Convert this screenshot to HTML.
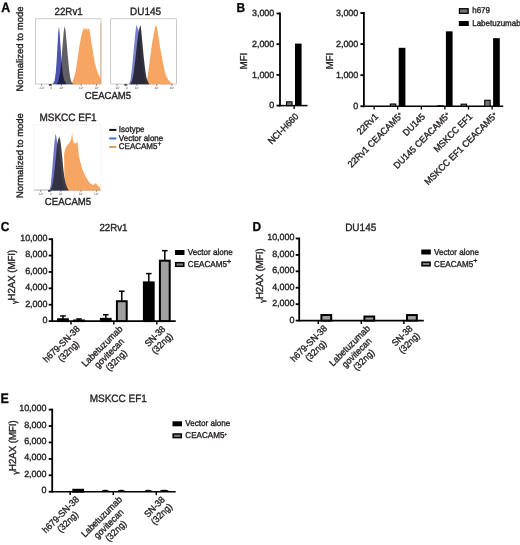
<!DOCTYPE html>
<html><head><meta charset="utf-8"><title>Figure</title>
<style>
html,body{margin:0;padding:0;background:#fff;}
body{width:520px;height:545px;overflow:hidden;}
svg{display:block;font-family:"Liberation Sans", sans-serif;text-rendering:geometricPrecision;filter:blur(0.35px);}
text{stroke:#231f20;stroke-width:0.36px;}
</style></head><body>
<svg width="520" height="545" viewBox="0 0 520 545">
<rect width="520" height="545" fill="#fff"/>
<text transform="translate(1.2,11.6) scale(0.9000,1)" font-size="13.70" text-anchor="start" font-weight="bold" fill="#000" >A</text>
<text transform="translate(236.4,11.5) scale(0.9150,1)" font-size="13.00" text-anchor="start" font-weight="bold" fill="#000" >B</text>
<text transform="translate(0.8,231.2) scale(0.9150,1)" font-size="13.00" text-anchor="start" font-weight="bold" fill="#000" >C</text>
<text transform="translate(252.5,231.2) scale(0.9150,1)" font-size="13.00" text-anchor="start" font-weight="bold" fill="#000" >D</text>
<text transform="translate(0.4,402.8) scale(0.9000,1)" font-size="13.80" text-anchor="start" font-weight="bold" fill="#000" >E</text>
<rect x="35.5" y="18.8" width="65.5" height="65.2" fill="none" stroke="#b5b5b5" stroke-width="0.7"/>
<text transform="translate(22.8,49) rotate(-90) scale(1.0000,1)" font-size="9.50" text-anchor="middle" fill="#231f20">Normalized to mode</text>
<text transform="translate(68.6,15.1) scale(0.9434,1)" font-size="10.39" text-anchor="middle" font-weight="normal" fill="#231f20" >22Rv1</text>
<text transform="translate(108,98.7) scale(0.9434,1)" font-size="10.18" text-anchor="middle" font-weight="normal" fill="#231f20" >CEACAM5</text>
<path d="M52.50,84.30 L54.50,81.00 L55.80,72.00 L56.80,58.00 L57.60,44.00 L58.30,32.00 L58.90,26.80 L59.60,32.00 L60.50,46.00 L61.60,62.00 L62.80,74.00 L64.30,80.50 L66.50,84.30 Z" fill="#4c53b2" fill-opacity="1"/>
<path d="M70.80,84.30 L72.50,82.60 L74.10,77.00 L75.80,71.20 L77.40,59.60 L79.10,48.00 L80.70,39.00 L82.40,31.50 L83.40,29.00 L84.10,28.20 L85.20,29.50 L86.20,27.90 L87.40,29.90 L88.50,28.20 L89.20,29.20 L89.80,31.50 L91.00,39.50 L92.30,48.00 L93.50,55.50 L94.80,62.90 L96.00,67.50 L97.30,71.20 L98.50,74.50 L99.75,77.00 L100.60,78.00 L101.00,78.00 L101.00,84.30 Z" fill="#f6a662" fill-opacity="1"/>
<path d="M56.50,84.30 L58.50,81.00 L60.20,72.00 L61.60,58.00 L62.80,43.00 L63.80,31.00 L64.70,26.20 L65.50,30.00 L66.50,41.00 L67.80,56.00 L69.00,69.00 L70.20,77.50 L71.50,82.00 L73.50,84.30 Z" fill="#606064" fill-opacity="1" style="mix-blend-mode:multiply"/>
<line x1="100.8" y1="23" x2="100.8" y2="84.3" stroke="#e2a673" stroke-width="0.8" stroke-linecap="butt"/>
<rect x="110.7" y="18.8" width="65.8" height="65.2" fill="none" stroke="#b5b5b5" stroke-width="0.7"/>
<text transform="translate(145.5,15.1) scale(0.9434,1)" font-size="10.60" text-anchor="middle" font-weight="normal" fill="#231f20" >DU145</text>
<path d="M129.00,84.30 L130.50,80.00 L132.00,68.00 L133.50,52.00 L135.00,36.00 L136.00,27.00 L136.60,24.70 L137.40,27.50 L138.50,30.00 L140.00,40.00 L142.00,60.00 L144.00,76.00 L146.00,84.30 Z" fill="#7a80d2" fill-opacity="1"/>
<path d="M145.80,84.30 L147.00,80.00 L148.50,70.00 L150.50,54.40 L152.30,42.00 L154.00,32.00 L155.20,27.00 L156.00,24.70 L156.90,27.50 L158.00,34.00 L159.50,44.00 L161.40,54.40 L163.00,63.00 L164.40,70.00 L166.00,75.50 L168.00,79.50 L170.50,82.30 L173.00,84.30 Z" fill="#f6a662" fill-opacity="1"/>
<path d="M130.00,84.30 L132.00,81.00 L133.80,72.00 L135.50,58.00 L137.00,44.00 L138.50,32.00 L139.60,27.50 L140.40,24.70 L141.20,30.00 L142.30,42.00 L143.80,58.00 L145.20,70.00 L146.50,78.00 L148.00,82.00 L149.50,84.30 Z" fill="#24242e" fill-opacity="0.93"/>
<rect x="33.8" y="124.6" width="67.2" height="65.4" fill="none" stroke="#dedede" stroke-width="0.6" stroke-dasharray="1,1"/>
<line x1="33.8" y1="190" x2="101" y2="190" stroke="#9a9a9a" stroke-width="0.7" stroke-linecap="butt"/>
<text transform="translate(22.8,155.6) rotate(-90) scale(1.0000,1)" font-size="9.50" text-anchor="middle" fill="#231f20">Normalized to mode</text>
<text transform="translate(68,120.9) scale(0.9434,1)" font-size="10.60" text-anchor="middle" font-weight="normal" fill="#231f20" >MSKCC EF1</text>
<text transform="translate(68,204.6) scale(0.9434,1)" font-size="10.18" text-anchor="middle" font-weight="normal" fill="#231f20" >CEACAM5</text>
<path d="M49.30,190.40 L50.60,186.00 L51.80,174.00 L53.10,158.00 L54.30,144.00 L55.30,135.50 L55.80,133.80 L56.20,136.00 L57.00,141.00 L58.50,150.00 L61.00,170.00 L63.00,184.00 L65.00,190.40 Z" fill="#6f74c8" fill-opacity="1"/>
<path d="M64.60,190.40 L64.30,170.00 L64.10,154.00 L65.00,150.00 L66.00,147.00 L67.50,145.00 L69.40,142.80 L71.00,140.00 L71.80,135.00 L72.20,132.40 L72.70,138.00 L73.50,142.80 L75.00,143.50 L76.50,143.00 L77.30,140.70 L77.90,146.00 L79.00,156.60 L80.60,163.00 L82.30,169.00 L84.20,173.50 L86.20,177.40 L88.00,180.50 L90.00,183.00 L92.00,184.50 L93.50,185.00 L94.80,184.00 L95.90,183.00 L97.20,185.00 L98.70,186.40 L99.80,187.50 L100.70,190.40 Z" fill="#f6a662" fill-opacity="1"/>
<path d="M50.30,190.40 L51.80,187.00 L53.30,180.00 L54.80,168.00 L56.10,155.00 L57.20,144.00 L58.20,139.50 L59.30,136.50 L60.40,140.50 L61.40,149.00 L62.40,159.00 L63.30,169.00 L64.30,177.00 L65.50,183.00 L67.00,187.20 L68.80,190.40 Z" fill="#2e2e3a" fill-opacity="0.92"/>
<line x1="41.6" y1="84" x2="41.6" y2="85.8" stroke="#555" stroke-width="0.7" stroke-linecap="butt"/>
<text transform="translate(41.6,89.2) scale(0.9434,1)" font-size="3.39" text-anchor="middle" font-weight="normal" fill="#3a3a3a" style="stroke:none">-10<tspan dy="-0.8" font-size="1.6">2</tspan></text>
<line x1="51.5" y1="84" x2="51.5" y2="85.8" stroke="#555" stroke-width="0.7" stroke-linecap="butt"/>
<text transform="translate(51.5,89.2) scale(0.9434,1)" font-size="3.39" text-anchor="middle" font-weight="normal" fill="#3a3a3a" style="stroke:none">0</text>
<line x1="61.400000000000006" y1="84" x2="61.400000000000006" y2="85.8" stroke="#555" stroke-width="0.7" stroke-linecap="butt"/>
<text transform="translate(61.400000000000006,89.2) scale(0.9434,1)" font-size="3.39" text-anchor="middle" font-weight="normal" fill="#3a3a3a" style="stroke:none">10<tspan dy="-0.8" font-size="1.6">2</tspan></text>
<line x1="81.19999999999999" y1="84" x2="81.19999999999999" y2="85.8" stroke="#555" stroke-width="0.7" stroke-linecap="butt"/>
<text transform="translate(81.19999999999999,89.2) scale(0.9434,1)" font-size="3.39" text-anchor="middle" font-weight="normal" fill="#3a3a3a" style="stroke:none">10<tspan dy="-0.8" font-size="1.6">4</tspan></text>
<line x1="96.38" y1="84" x2="96.38" y2="85.8" stroke="#555" stroke-width="0.7" stroke-linecap="butt"/>
<text transform="translate(96.38,89.2) scale(0.9434,1)" font-size="3.39" text-anchor="middle" font-weight="normal" fill="#3a3a3a" style="stroke:none">10<tspan dy="-0.8" font-size="1.6">5</tspan></text>
<line x1="56.120000000000005" y1="84" x2="56.120000000000005" y2="85.0" stroke="#888" stroke-width="0.4" stroke-linecap="butt"/>
<line x1="58.76" y1="84" x2="58.76" y2="85.0" stroke="#888" stroke-width="0.4" stroke-linecap="butt"/>
<line x1="68.0" y1="84" x2="68.0" y2="85.0" stroke="#888" stroke-width="0.4" stroke-linecap="butt"/>
<line x1="71.30000000000001" y1="84" x2="71.30000000000001" y2="85.0" stroke="#888" stroke-width="0.4" stroke-linecap="butt"/>
<line x1="74.6" y1="84" x2="74.6" y2="85.0" stroke="#888" stroke-width="0.4" stroke-linecap="butt"/>
<line x1="77.9" y1="84" x2="77.9" y2="85.0" stroke="#888" stroke-width="0.4" stroke-linecap="butt"/>
<line x1="86.48" y1="84" x2="86.48" y2="85.0" stroke="#888" stroke-width="0.4" stroke-linecap="butt"/>
<line x1="89.78" y1="84" x2="89.78" y2="85.0" stroke="#888" stroke-width="0.4" stroke-linecap="butt"/>
<line x1="93.08" y1="84" x2="93.08" y2="85.0" stroke="#888" stroke-width="0.4" stroke-linecap="butt"/>
<rect x="48.86" y="84.20" width="2.20" height="1.40" fill="#111"/>
<line x1="117.1" y1="84" x2="117.1" y2="85.8" stroke="#555" stroke-width="0.7" stroke-linecap="butt"/>
<text transform="translate(117.1,89.2) scale(0.9434,1)" font-size="3.39" text-anchor="middle" font-weight="normal" fill="#3a3a3a" style="stroke:none">-10<tspan dy="-0.8" font-size="1.6">2</tspan></text>
<line x1="127.0" y1="84" x2="127.0" y2="85.8" stroke="#555" stroke-width="0.7" stroke-linecap="butt"/>
<text transform="translate(127.0,89.2) scale(0.9434,1)" font-size="3.39" text-anchor="middle" font-weight="normal" fill="#3a3a3a" style="stroke:none">0</text>
<line x1="136.9" y1="84" x2="136.9" y2="85.8" stroke="#555" stroke-width="0.7" stroke-linecap="butt"/>
<text transform="translate(136.9,89.2) scale(0.9434,1)" font-size="3.39" text-anchor="middle" font-weight="normal" fill="#3a3a3a" style="stroke:none">10<tspan dy="-0.8" font-size="1.6">2</tspan></text>
<line x1="156.7" y1="84" x2="156.7" y2="85.8" stroke="#555" stroke-width="0.7" stroke-linecap="butt"/>
<text transform="translate(156.7,89.2) scale(0.9434,1)" font-size="3.39" text-anchor="middle" font-weight="normal" fill="#3a3a3a" style="stroke:none">10<tspan dy="-0.8" font-size="1.6">4</tspan></text>
<line x1="171.88" y1="84" x2="171.88" y2="85.8" stroke="#555" stroke-width="0.7" stroke-linecap="butt"/>
<text transform="translate(171.88,89.2) scale(0.9434,1)" font-size="3.39" text-anchor="middle" font-weight="normal" fill="#3a3a3a" style="stroke:none">10<tspan dy="-0.8" font-size="1.6">5</tspan></text>
<line x1="131.62" y1="84" x2="131.62" y2="85.0" stroke="#888" stroke-width="0.4" stroke-linecap="butt"/>
<line x1="134.26" y1="84" x2="134.26" y2="85.0" stroke="#888" stroke-width="0.4" stroke-linecap="butt"/>
<line x1="143.5" y1="84" x2="143.5" y2="85.0" stroke="#888" stroke-width="0.4" stroke-linecap="butt"/>
<line x1="146.8" y1="84" x2="146.8" y2="85.0" stroke="#888" stroke-width="0.4" stroke-linecap="butt"/>
<line x1="150.1" y1="84" x2="150.1" y2="85.0" stroke="#888" stroke-width="0.4" stroke-linecap="butt"/>
<line x1="153.4" y1="84" x2="153.4" y2="85.0" stroke="#888" stroke-width="0.4" stroke-linecap="butt"/>
<line x1="161.98000000000002" y1="84" x2="161.98000000000002" y2="85.0" stroke="#888" stroke-width="0.4" stroke-linecap="butt"/>
<line x1="165.28" y1="84" x2="165.28" y2="85.0" stroke="#888" stroke-width="0.4" stroke-linecap="butt"/>
<line x1="168.57999999999998" y1="84" x2="168.57999999999998" y2="85.0" stroke="#888" stroke-width="0.4" stroke-linecap="butt"/>
<rect x="124.36" y="84.20" width="2.20" height="1.40" fill="#111"/>
<line x1="40.7" y1="190" x2="40.7" y2="191.8" stroke="#555" stroke-width="0.7" stroke-linecap="butt"/>
<text transform="translate(40.7,195.2) scale(0.9434,1)" font-size="3.39" text-anchor="middle" font-weight="normal" fill="#3a3a3a" style="stroke:none">-10<tspan dy="-0.8" font-size="1.6">2</tspan></text>
<line x1="50.75" y1="190" x2="50.75" y2="191.8" stroke="#555" stroke-width="0.7" stroke-linecap="butt"/>
<text transform="translate(50.75,195.2) scale(0.9434,1)" font-size="3.39" text-anchor="middle" font-weight="normal" fill="#3a3a3a" style="stroke:none">0</text>
<line x1="60.8" y1="190" x2="60.8" y2="191.8" stroke="#555" stroke-width="0.7" stroke-linecap="butt"/>
<text transform="translate(60.8,195.2) scale(0.9434,1)" font-size="3.39" text-anchor="middle" font-weight="normal" fill="#3a3a3a" style="stroke:none">10<tspan dy="-0.8" font-size="1.6">2</tspan></text>
<line x1="80.9" y1="190" x2="80.9" y2="191.8" stroke="#555" stroke-width="0.7" stroke-linecap="butt"/>
<text transform="translate(80.9,195.2) scale(0.9434,1)" font-size="3.39" text-anchor="middle" font-weight="normal" fill="#3a3a3a" style="stroke:none">10<tspan dy="-0.8" font-size="1.6">4</tspan></text>
<line x1="96.31" y1="190" x2="96.31" y2="191.8" stroke="#555" stroke-width="0.7" stroke-linecap="butt"/>
<text transform="translate(96.31,195.2) scale(0.9434,1)" font-size="3.39" text-anchor="middle" font-weight="normal" fill="#3a3a3a" style="stroke:none">10<tspan dy="-0.8" font-size="1.6">5</tspan></text>
<line x1="55.44" y1="190" x2="55.44" y2="191.0" stroke="#888" stroke-width="0.4" stroke-linecap="butt"/>
<line x1="58.12" y1="190" x2="58.12" y2="191.0" stroke="#888" stroke-width="0.4" stroke-linecap="butt"/>
<line x1="67.5" y1="190" x2="67.5" y2="191.0" stroke="#888" stroke-width="0.4" stroke-linecap="butt"/>
<line x1="70.85" y1="190" x2="70.85" y2="191.0" stroke="#888" stroke-width="0.4" stroke-linecap="butt"/>
<line x1="74.19999999999999" y1="190" x2="74.19999999999999" y2="191.0" stroke="#888" stroke-width="0.4" stroke-linecap="butt"/>
<line x1="77.55000000000001" y1="190" x2="77.55000000000001" y2="191.0" stroke="#888" stroke-width="0.4" stroke-linecap="butt"/>
<line x1="86.26" y1="190" x2="86.26" y2="191.0" stroke="#888" stroke-width="0.4" stroke-linecap="butt"/>
<line x1="89.61" y1="190" x2="89.61" y2="191.0" stroke="#888" stroke-width="0.4" stroke-linecap="butt"/>
<line x1="92.96000000000001" y1="190" x2="92.96000000000001" y2="191.0" stroke="#888" stroke-width="0.4" stroke-linecap="butt"/>
<rect x="48.07" y="190.20" width="2.20" height="1.40" fill="#111"/>
<line x1="109.2" y1="129.9" x2="116.4" y2="129.9" stroke="#111" stroke-width="2.0" stroke-linecap="butt"/>
<text transform="translate(118.8,132.3) scale(0.9434,1)" font-size="8.48" text-anchor="start" font-weight="normal" fill="#231f20" >Isotype</text>
<line x1="109.2" y1="138.45000000000002" x2="116.4" y2="138.45000000000002" stroke="#3b78c4" stroke-width="2.0" stroke-linecap="butt"/>
<text transform="translate(118.8,140.85000000000002) scale(0.9434,1)" font-size="8.48" text-anchor="start" font-weight="normal" fill="#231f20" >Vector alone</text>
<line x1="109.2" y1="147.0" x2="116.4" y2="147.0" stroke="#dfa24e" stroke-width="2.0" stroke-linecap="butt"/>
<text transform="translate(118.8,149.4) scale(0.9434,1)" font-size="8.48" text-anchor="start" font-weight="normal" fill="#231f20" >CEACAM5<tspan dy="-3.6" font-size="7">+</tspan></text>
<line x1="280" y1="12.6" x2="280" y2="106.5" stroke="#000" stroke-width="1.8" stroke-linecap="butt"/>
<line x1="276.5" y1="13.5" x2="280" y2="13.5" stroke="#000" stroke-width="1.8" stroke-linecap="butt"/>
<text transform="translate(274.3,16.2) scale(1.0000,1)" font-size="8.95" text-anchor="end" font-weight="normal" fill="#231f20" >3,000</text>
<line x1="276.5" y1="44.2" x2="280" y2="44.2" stroke="#000" stroke-width="1.8" stroke-linecap="butt"/>
<text transform="translate(274.3,46.900000000000006) scale(1.0000,1)" font-size="8.95" text-anchor="end" font-weight="normal" fill="#231f20" >2,000</text>
<line x1="276.5" y1="74.9" x2="280" y2="74.9" stroke="#000" stroke-width="1.8" stroke-linecap="butt"/>
<text transform="translate(274.3,77.60000000000001) scale(1.0000,1)" font-size="8.95" text-anchor="end" font-weight="normal" fill="#231f20" >1,000</text>
<line x1="276.5" y1="105.59999999999998" x2="280" y2="105.59999999999998" stroke="#000" stroke-width="1.8" stroke-linecap="butt"/>
<text transform="translate(274.3,108.29999999999998) scale(1.0000,1)" font-size="8.95" text-anchor="end" font-weight="normal" fill="#231f20" >0</text>
<text transform="translate(246.9,61.1) rotate(-90) scale(0.9434,1)" font-size="10.07" text-anchor="middle" fill="#231f20">MFI</text>
<line x1="280" y1="105.6" x2="307.5" y2="105.6" stroke="#000" stroke-width="1.5" stroke-linecap="butt"/>
<line x1="294.1" y1="105.6" x2="294.1" y2="108.89999999999999" stroke="#000" stroke-width="1.4" stroke-linecap="butt"/>
<rect x="286.55" y="101.85" width="5.50" height="3.75" fill="#757575" stroke="#000" stroke-width="1.1"/>
<rect x="295.00" y="43.59" width="6.60" height="62.01" fill="#000"/>
<text transform="translate(299.3,117) rotate(-45) scale(0.9434,1)" font-size="9.33" text-anchor="end" fill="#231f20">NCI-H660</text>
<line x1="363.9" y1="12.1" x2="363.9" y2="107.15" stroke="#000" stroke-width="1.8" stroke-linecap="butt"/>
<line x1="360.4" y1="13.0" x2="363.9" y2="13.0" stroke="#000" stroke-width="1.8" stroke-linecap="butt"/>
<text transform="translate(358.29999999999995,16.0) scale(1.0000,1)" font-size="8.95" text-anchor="end" font-weight="normal" fill="#231f20" >3,000</text>
<line x1="360.4" y1="44.08333333333333" x2="363.9" y2="44.08333333333333" stroke="#000" stroke-width="1.8" stroke-linecap="butt"/>
<text transform="translate(358.29999999999995,47.08333333333333) scale(1.0000,1)" font-size="8.95" text-anchor="end" font-weight="normal" fill="#231f20" >2,000</text>
<line x1="360.4" y1="75.16666666666666" x2="363.9" y2="75.16666666666666" stroke="#000" stroke-width="1.8" stroke-linecap="butt"/>
<text transform="translate(358.29999999999995,78.16666666666666) scale(1.0000,1)" font-size="8.95" text-anchor="end" font-weight="normal" fill="#231f20" >1,000</text>
<line x1="360.4" y1="106.25" x2="363.9" y2="106.25" stroke="#000" stroke-width="1.8" stroke-linecap="butt"/>
<text transform="translate(358.29999999999995,109.25) scale(1.0000,1)" font-size="8.95" text-anchor="end" font-weight="normal" fill="#231f20" >0</text>
<text transform="translate(333.2,61.1) rotate(-90) scale(0.9434,1)" font-size="10.07" text-anchor="middle" fill="#231f20">MFI</text>
<line x1="363.9" y1="106.25" x2="503.2" y2="106.25" stroke="#000" stroke-width="1.6" stroke-linecap="butt"/>
<line x1="374.1" y1="106.25" x2="374.1" y2="109.55" stroke="#000" stroke-width="1.3" stroke-linecap="butt"/>
<text transform="translate(378.6,117.2) rotate(-45) scale(0.9434,1)" font-size="9.33" text-anchor="end" fill="#231f20">22Rv1</text>
<line x1="397.70000000000005" y1="106.25" x2="397.70000000000005" y2="109.55" stroke="#000" stroke-width="1.3" stroke-linecap="butt"/>
<rect x="390.35" y="104.00" width="5.40" height="2.25" fill="#757575" stroke="#000" stroke-width="1.1"/>
<rect x="398.70" y="47.81" width="6.70" height="58.44" fill="#000"/>
<text transform="translate(403.50000000000006,116.0) rotate(-45) scale(0.9434,1)" font-size="9.33" text-anchor="end" fill="#231f20">22Rv1 CEACAM5<tspan dy="-2.6" font-size="5.5">+</tspan></text>
<line x1="421.3" y1="106.25" x2="421.3" y2="109.55" stroke="#000" stroke-width="1.3" stroke-linecap="butt"/>
<text transform="translate(425.8,117.2) rotate(-45) scale(0.9434,1)" font-size="9.33" text-anchor="end" fill="#231f20">DU145</text>
<line x1="444.90000000000003" y1="106.25" x2="444.90000000000003" y2="109.55" stroke="#000" stroke-width="1.3" stroke-linecap="butt"/>
<rect x="437.55" y="105.87" width="5.40" height="0.38" fill="#757575" stroke="#000" stroke-width="1.1"/>
<rect x="445.90" y="31.34" width="6.70" height="74.91" fill="#000"/>
<text transform="translate(450.70000000000005,116.0) rotate(-45) scale(0.9434,1)" font-size="9.33" text-anchor="end" fill="#231f20">DU145 CEACAM5<tspan dy="-2.6" font-size="5.5">+</tspan></text>
<line x1="468.5" y1="106.25" x2="468.5" y2="109.55" stroke="#000" stroke-width="1.3" stroke-linecap="butt"/>
<rect x="461.15" y="104.16" width="5.40" height="2.09" fill="#757575" stroke="#000" stroke-width="1.1"/>
<text transform="translate(473.0,117.2) rotate(-45) scale(0.9434,1)" font-size="9.33" text-anchor="end" fill="#231f20">MSKCC EF1</text>
<line x1="492.1" y1="106.25" x2="492.1" y2="109.55" stroke="#000" stroke-width="1.3" stroke-linecap="butt"/>
<rect x="484.75" y="100.27" width="5.40" height="5.98" fill="#757575" stroke="#000" stroke-width="1.1"/>
<rect x="493.10" y="38.18" width="6.70" height="68.07" fill="#000"/>
<text transform="translate(497.90000000000003,116.0) rotate(-45) scale(0.9434,1)" font-size="9.33" text-anchor="end" fill="#231f20">MSKCC EF1 CEACAM5<tspan dy="-2.6" font-size="5.5">+</tspan></text>
<rect x="459.45" y="8.75" width="8.70" height="4.55" fill="#757575" stroke="#000" stroke-width="1.3"/>
<text transform="translate(472.2,13.4) scale(0.9434,1)" font-size="8.48" text-anchor="start" font-weight="normal" fill="#231f20" >h679</text>
<rect x="458.80" y="21.00" width="10.00" height="5.00" fill="#000"/>
<text transform="translate(472.2,26.4) scale(0.9434,1)" font-size="8.48" text-anchor="start" font-weight="normal" fill="#231f20" >Labetuzumab</text>
<line x1="52.2" y1="238.29999999999998" x2="52.2" y2="322.0" stroke="#000" stroke-width="1.8" stroke-linecap="butt"/>
<line x1="48.7" y1="239.2" x2="52.2" y2="239.2" stroke="#000" stroke-width="1.8" stroke-linecap="butt"/>
<text transform="translate(47.5,241.1) scale(1.0000,1)" font-size="8.95" text-anchor="end" font-weight="normal" fill="#231f20" >10,000</text>
<line x1="48.7" y1="255.57999999999998" x2="52.2" y2="255.57999999999998" stroke="#000" stroke-width="1.8" stroke-linecap="butt"/>
<text transform="translate(47.5,257.47999999999996) scale(1.0000,1)" font-size="8.95" text-anchor="end" font-weight="normal" fill="#231f20" >8,000</text>
<line x1="48.7" y1="271.96" x2="52.2" y2="271.96" stroke="#000" stroke-width="1.8" stroke-linecap="butt"/>
<text transform="translate(47.5,273.85999999999996) scale(1.0000,1)" font-size="8.95" text-anchor="end" font-weight="normal" fill="#231f20" >6,000</text>
<line x1="48.7" y1="288.34000000000003" x2="52.2" y2="288.34000000000003" stroke="#000" stroke-width="1.8" stroke-linecap="butt"/>
<text transform="translate(47.5,290.24) scale(1.0000,1)" font-size="8.95" text-anchor="end" font-weight="normal" fill="#231f20" >4,000</text>
<line x1="48.7" y1="304.72" x2="52.2" y2="304.72" stroke="#000" stroke-width="1.8" stroke-linecap="butt"/>
<text transform="translate(47.5,306.62) scale(1.0000,1)" font-size="8.95" text-anchor="end" font-weight="normal" fill="#231f20" >2,000</text>
<line x1="48.7" y1="321.1" x2="52.2" y2="321.1" stroke="#000" stroke-width="1.8" stroke-linecap="butt"/>
<text transform="translate(47.5,323.0) scale(1.0000,1)" font-size="8.95" text-anchor="end" font-weight="normal" fill="#231f20" >0</text>
<text transform="translate(15.3,276.95) rotate(-90) scale(0.9434,1)" font-size="10.18" text-anchor="middle" fill="#231f20"><tspan font-size="7.6" dy="1.6">γ</tspan><tspan dy="-1.6">H2AX (MFI)</tspan></text>
<line x1="52.2" y1="321.1" x2="175.7" y2="321.1" stroke="#000" stroke-width="1.6" stroke-linecap="butt"/>
<text transform="translate(113.4,230.8) scale(0.9434,1)" font-size="10.28" text-anchor="middle" font-weight="normal" fill="#231f20" >22Rv1</text>
<line x1="71" y1="321.1" x2="71" y2="324.5" stroke="#000" stroke-width="1.5" stroke-linecap="butt"/>
<line x1="63" y1="319.0525" x2="63" y2="315.94030000000004" stroke="#000" stroke-width="1.5" stroke-linecap="butt"/>
<line x1="60.2" y1="315.94030000000004" x2="65.8" y2="315.94030000000004" stroke="#000" stroke-width="1.5" stroke-linecap="butt"/>
<rect x="58.10" y="319.25" width="9.80" height="1.85" fill="#000" stroke="#000" stroke-width="2.0"/>
<line x1="79" y1="320.281" x2="79" y2="318.97060000000005" stroke="#000" stroke-width="1.5" stroke-linecap="butt"/>
<line x1="76.2" y1="318.97060000000005" x2="81.8" y2="318.97060000000005" stroke="#000" stroke-width="1.5" stroke-linecap="butt"/>
<rect x="74.10" y="320.48" width="9.80" height="0.62" fill="#a0a0a0" stroke="#000" stroke-width="2.0"/>
<text transform="translate(74.6,323.70000000000005) rotate(-45) scale(0.9434,1)" font-size="9.33" text-anchor="middle" fill="#231f20"><tspan x="-25.15" y="8.20">h679-SN-38</tspan><tspan x="-25.15" y="18.20">(32ng)</tspan></text>
<line x1="113.8" y1="321.1" x2="113.8" y2="324.5" stroke="#000" stroke-width="1.5" stroke-linecap="butt"/>
<line x1="105.8" y1="318.64300000000003" x2="105.8" y2="314.71180000000004" stroke="#000" stroke-width="1.5" stroke-linecap="butt"/>
<line x1="103.0" y1="314.71180000000004" x2="108.6" y2="314.71180000000004" stroke="#000" stroke-width="1.5" stroke-linecap="butt"/>
<rect x="100.90" y="318.84" width="9.80" height="2.26" fill="#000" stroke="#000" stroke-width="2.0"/>
<line x1="121.8" y1="301.03450000000004" x2="121.8" y2="291.2065" stroke="#000" stroke-width="1.5" stroke-linecap="butt"/>
<line x1="119.0" y1="291.2065" x2="124.6" y2="291.2065" stroke="#000" stroke-width="1.5" stroke-linecap="butt"/>
<rect x="116.90" y="301.23" width="9.80" height="19.87" fill="#a0a0a0" stroke="#000" stroke-width="2.0"/>
<text transform="translate(117.39999999999999,323.70000000000005) rotate(-45) scale(0.9434,1)" font-size="9.33" text-anchor="middle" fill="#231f20"><tspan x="-28.26" y="8.20">Labetuzumab</tspan><tspan x="-28.26" y="18.20">govitecan</tspan><tspan x="-28.26" y="28.20">(32ng)</tspan></text>
<line x1="156.8" y1="321.1" x2="156.8" y2="324.5" stroke="#000" stroke-width="1.5" stroke-linecap="butt"/>
<line x1="148.8" y1="282.1975" x2="148.8" y2="273.598" stroke="#000" stroke-width="1.5" stroke-linecap="butt"/>
<line x1="146.0" y1="273.598" x2="151.60000000000002" y2="273.598" stroke="#000" stroke-width="1.5" stroke-linecap="butt"/>
<rect x="143.90" y="282.40" width="9.80" height="38.70" fill="#000" stroke="#000" stroke-width="2.0"/>
<line x1="164.8" y1="260.494" x2="164.8" y2="250.666" stroke="#000" stroke-width="1.5" stroke-linecap="butt"/>
<line x1="162.0" y1="250.666" x2="167.60000000000002" y2="250.666" stroke="#000" stroke-width="1.5" stroke-linecap="butt"/>
<rect x="159.90" y="260.69" width="9.80" height="60.41" fill="#a0a0a0" stroke="#000" stroke-width="2.0"/>
<text transform="translate(160.4,323.70000000000005) rotate(-45) scale(0.9434,1)" font-size="9.33" text-anchor="middle" fill="#231f20"><tspan x="-13.48" y="8.20">SN-38</tspan><tspan x="-13.48" y="18.20">(32ng)</tspan></text>
<rect x="175.00" y="250.00" width="9.50" height="5.00" fill="#000"/>
<text transform="translate(187.8,255.0) scale(0.9434,1)" font-size="8.59" text-anchor="start" font-weight="normal" fill="#231f20" >Vector alone</text>
<rect x="175.70" y="262.70" width="8.10" height="3.60" fill="#7c7c7c" stroke="#000" stroke-width="1.5"/>
<text transform="translate(187.8,267.0) scale(0.9434,1)" font-size="8.59" text-anchor="start" font-weight="normal" fill="#231f20" >CEACAM5<tspan dy="-3.3" font-size="7.5">+</tspan></text>
<line x1="299.2" y1="237.6" x2="299.2" y2="321.5" stroke="#000" stroke-width="1.8" stroke-linecap="butt"/>
<line x1="295.7" y1="238.5" x2="299.2" y2="238.5" stroke="#000" stroke-width="1.8" stroke-linecap="butt"/>
<text transform="translate(294.5,240.4) scale(1.0000,1)" font-size="8.95" text-anchor="end" font-weight="normal" fill="#231f20" >10,000</text>
<line x1="295.7" y1="254.92000000000002" x2="299.2" y2="254.92000000000002" stroke="#000" stroke-width="1.8" stroke-linecap="butt"/>
<text transform="translate(294.5,256.82) scale(1.0000,1)" font-size="8.95" text-anchor="end" font-weight="normal" fill="#231f20" >8,000</text>
<line x1="295.7" y1="271.34000000000003" x2="299.2" y2="271.34000000000003" stroke="#000" stroke-width="1.8" stroke-linecap="butt"/>
<text transform="translate(294.5,273.24) scale(1.0000,1)" font-size="8.95" text-anchor="end" font-weight="normal" fill="#231f20" >6,000</text>
<line x1="295.7" y1="287.76" x2="299.2" y2="287.76" stroke="#000" stroke-width="1.8" stroke-linecap="butt"/>
<text transform="translate(294.5,289.65999999999997) scale(1.0000,1)" font-size="8.95" text-anchor="end" font-weight="normal" fill="#231f20" >4,000</text>
<line x1="295.7" y1="304.18" x2="299.2" y2="304.18" stroke="#000" stroke-width="1.8" stroke-linecap="butt"/>
<text transform="translate(294.5,306.08) scale(1.0000,1)" font-size="8.95" text-anchor="end" font-weight="normal" fill="#231f20" >2,000</text>
<line x1="295.7" y1="320.6" x2="299.2" y2="320.6" stroke="#000" stroke-width="1.8" stroke-linecap="butt"/>
<text transform="translate(294.5,322.5) scale(1.0000,1)" font-size="8.95" text-anchor="end" font-weight="normal" fill="#231f20" >0</text>
<text transform="translate(263.2,275.55) rotate(-90) scale(0.9434,1)" font-size="10.18" text-anchor="middle" fill="#231f20"><tspan font-size="7.6" dy="1.6">γ</tspan><tspan dy="-1.6">H2AX (MFI)</tspan></text>
<line x1="299.2" y1="320.6" x2="423.8" y2="320.6" stroke="#000" stroke-width="1.6" stroke-linecap="butt"/>
<text transform="translate(360.7,230.7) scale(0.9434,1)" font-size="10.60" text-anchor="middle" font-weight="normal" fill="#231f20" >DU145</text>
<line x1="318.3" y1="320.6" x2="318.3" y2="324.0" stroke="#000" stroke-width="1.5" stroke-linecap="butt"/>
<rect x="321.40" y="315.05" width="9.80" height="5.55" fill="#a0a0a0" stroke="#000" stroke-width="2.0"/>
<text transform="translate(321.90000000000003,323.20000000000005) rotate(-45) scale(0.9434,1)" font-size="9.33" text-anchor="middle" fill="#231f20"><tspan x="-25.15" y="8.20">h679-SN-38</tspan><tspan x="-25.15" y="18.20">(32ng)</tspan></text>
<line x1="361.3" y1="320.6" x2="361.3" y2="324.0" stroke="#000" stroke-width="1.5" stroke-linecap="butt"/>
<rect x="364.40" y="316.53" width="9.80" height="4.07" fill="#a0a0a0" stroke="#000" stroke-width="2.0"/>
<text transform="translate(364.90000000000003,323.20000000000005) rotate(-45) scale(0.9434,1)" font-size="9.33" text-anchor="middle" fill="#231f20"><tspan x="-28.26" y="8.20">Labetuzumab</tspan><tspan x="-28.26" y="18.20">govitecan</tspan><tspan x="-28.26" y="28.20">(32ng)</tspan></text>
<line x1="403.9" y1="320.6" x2="403.9" y2="324.0" stroke="#000" stroke-width="1.5" stroke-linecap="butt"/>
<rect x="407.00" y="315.05" width="9.80" height="5.55" fill="#a0a0a0" stroke="#000" stroke-width="2.0"/>
<text transform="translate(407.5,323.20000000000005) rotate(-45) scale(0.9434,1)" font-size="9.33" text-anchor="middle" fill="#231f20"><tspan x="-13.48" y="8.20">SN-38</tspan><tspan x="-13.48" y="18.20">(32ng)</tspan></text>
<rect x="421.30" y="249.50" width="9.50" height="5.00" fill="#000"/>
<text transform="translate(434.1,254.5) scale(0.9434,1)" font-size="8.59" text-anchor="start" font-weight="normal" fill="#231f20" >Vector alone</text>
<rect x="422.00" y="262.20" width="8.10" height="3.60" fill="#7c7c7c" stroke="#000" stroke-width="1.5"/>
<text transform="translate(434.1,266.5) scale(0.9434,1)" font-size="8.59" text-anchor="start" font-weight="normal" fill="#231f20" >CEACAM5<tspan dy="-3.3" font-size="7.5">+</tspan></text>
<line x1="52.2" y1="408.70000000000005" x2="52.2" y2="492.59999999999997" stroke="#000" stroke-width="1.8" stroke-linecap="butt"/>
<line x1="48.7" y1="409.6" x2="52.2" y2="409.6" stroke="#000" stroke-width="1.8" stroke-linecap="butt"/>
<text transform="translate(46.5,411.1) scale(1.0000,1)" font-size="8.95" text-anchor="end" font-weight="normal" fill="#231f20" >10,000</text>
<line x1="48.7" y1="426.02000000000004" x2="52.2" y2="426.02000000000004" stroke="#000" stroke-width="1.8" stroke-linecap="butt"/>
<text transform="translate(46.5,427.52000000000004) scale(1.0000,1)" font-size="8.95" text-anchor="end" font-weight="normal" fill="#231f20" >8,000</text>
<line x1="48.7" y1="442.44" x2="52.2" y2="442.44" stroke="#000" stroke-width="1.8" stroke-linecap="butt"/>
<text transform="translate(46.5,443.94) scale(1.0000,1)" font-size="8.95" text-anchor="end" font-weight="normal" fill="#231f20" >6,000</text>
<line x1="48.7" y1="458.86" x2="52.2" y2="458.86" stroke="#000" stroke-width="1.8" stroke-linecap="butt"/>
<text transform="translate(46.5,460.36) scale(1.0000,1)" font-size="8.95" text-anchor="end" font-weight="normal" fill="#231f20" >4,000</text>
<line x1="48.7" y1="475.28" x2="52.2" y2="475.28" stroke="#000" stroke-width="1.8" stroke-linecap="butt"/>
<text transform="translate(46.5,476.78) scale(1.0000,1)" font-size="8.95" text-anchor="end" font-weight="normal" fill="#231f20" >2,000</text>
<line x1="48.7" y1="491.7" x2="52.2" y2="491.7" stroke="#000" stroke-width="1.8" stroke-linecap="butt"/>
<text transform="translate(46.5,493.2) scale(1.0000,1)" font-size="8.95" text-anchor="end" font-weight="normal" fill="#231f20" >0</text>
<text transform="translate(16.2,447.45) rotate(-90) scale(0.9434,1)" font-size="10.18" text-anchor="middle" fill="#231f20"><tspan font-size="7.6" dy="1.6">γ</tspan><tspan dy="-1.6">H2AX (MFI)</tspan></text>
<line x1="52.2" y1="491.7" x2="175.7" y2="491.7" stroke="#000" stroke-width="1.6" stroke-linecap="butt"/>
<text transform="translate(118.3,402.3) scale(0.9434,1)" font-size="10.60" text-anchor="middle" font-weight="normal" fill="#231f20" >MSKCC EF1</text>
<line x1="70.2" y1="491.7" x2="70.2" y2="495.09999999999997" stroke="#000" stroke-width="1.5" stroke-linecap="butt"/>
<rect x="73.30" y="489.77" width="9.80" height="1.93" fill="#a0a0a0" stroke="#000" stroke-width="2.0"/>
<text transform="translate(73.8,494.3) rotate(-45) scale(0.9434,1)" font-size="9.33" text-anchor="middle" fill="#231f20"><tspan x="-25.15" y="8.20">h679-SN-38</tspan><tspan x="-25.15" y="18.20">(32ng)</tspan></text>
<line x1="113.3" y1="491.7" x2="113.3" y2="495.09999999999997" stroke="#000" stroke-width="1.5" stroke-linecap="butt"/>
<text transform="translate(116.89999999999999,494.3) rotate(-45) scale(0.9434,1)" font-size="9.33" text-anchor="middle" fill="#231f20"><tspan x="-28.26" y="8.20">Labetuzumab</tspan><tspan x="-28.26" y="18.20">govitecan</tspan><tspan x="-28.26" y="28.20">(32ng)</tspan></text>
<line x1="156.3" y1="491.7" x2="156.3" y2="495.09999999999997" stroke="#000" stroke-width="1.5" stroke-linecap="butt"/>
<text transform="translate(159.9,494.3) rotate(-45) scale(0.9434,1)" font-size="9.33" text-anchor="middle" fill="#231f20"><tspan x="-13.48" y="8.20">SN-38</tspan><tspan x="-13.48" y="18.20">(32ng)</tspan></text>
<rect x="172.50" y="421.30" width="9.50" height="5.00" fill="#000"/>
<text transform="translate(185.3,426.3) scale(0.9434,1)" font-size="8.59" text-anchor="start" font-weight="normal" fill="#231f20" >Vector alone</text>
<rect x="173.20" y="434.00" width="8.10" height="3.60" fill="#7c7c7c" stroke="#000" stroke-width="1.5"/>
<text transform="translate(185.3,438.3) scale(0.9434,1)" font-size="8.59" text-anchor="start" font-weight="normal" fill="#231f20" >CEACAM5<tspan dy="-2.4" font-size="4.5">+</tspan></text>
<rect x="102.05" y="490.20" width="6.50" height="1.50" fill="#000"/>
<rect x="103.55" y="489.80" width="3.50" height="1.00" fill="#000"/>
<rect x="118.05" y="490.20" width="6.50" height="1.50" fill="#000"/>
<rect x="119.55" y="489.80" width="3.50" height="1.00" fill="#000"/>
<rect x="145.05" y="490.20" width="6.50" height="1.50" fill="#000"/>
<rect x="146.55" y="489.80" width="3.50" height="1.00" fill="#000"/>
<rect x="160.30" y="490.20" width="8.00" height="1.50" fill="#000"/>
<rect x="161.80" y="489.80" width="5.00" height="1.00" fill="#000"/>
</svg>
</body></html>
